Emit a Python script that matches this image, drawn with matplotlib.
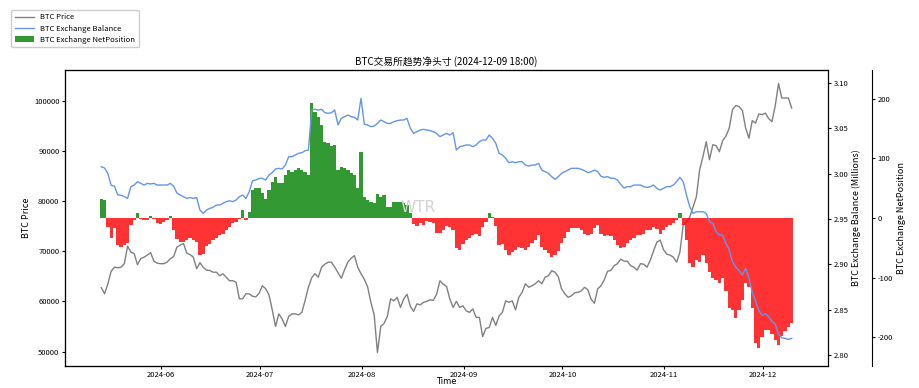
import matplotlib
matplotlib.use('Agg')
import matplotlib.pyplot as plt
import matplotlib.dates as mdates
from matplotlib.ticker import FormatStrFormatter
import numpy as np
import pandas as pd

plt.rcParams['font.family'] = ['Noto Sans CJK SC', 'DejaVu Sans']
plt.rcParams['axes.unicode_minus'] = False

# 日度数据 2024-05-13 ~ 2024-12-09
dates = pd.date_range('2024-05-13 18:00', periods=211, freq='D')

btc_price = [
    62700, 61500, 63500, 66000, 66800, 66700, 66800, 67500, 71000, 69800,
    69500, 67300, 68500, 68800, 69200, 69700, 68000, 67600, 67500, 67500,
    67800, 68500, 68900, 70800, 71200, 71500, 69600, 69300, 68800, 66500,
    67700, 66800, 66200, 66150, 65800, 65800, 65100, 65500, 64800, 64100,
    64100, 63800, 60500, 60500, 61500, 61500, 61000, 60900, 61600, 63100,
    62500, 61300, 58300, 55000, 57500, 56500, 55000, 57000, 57500, 57500,
    57300, 57800, 60200, 62800, 64700, 65500, 64800, 66800, 67400, 67800,
    67800, 66800, 65700, 64600, 66300, 67800, 68600, 69100, 66800, 65500,
    64400, 62900, 59800, 57300, 49800, 55000, 55600, 57000, 60500, 60100,
    60800, 58800, 60500, 61400, 59000, 58000, 59500, 59300, 59800, 60000,
    60300, 60200, 61400, 64100, 63400, 63000, 60500, 58800, 60000, 58800,
    59100, 58100, 57800, 58500, 56800, 56800, 53000, 54600, 54800, 56800,
    55200, 57100, 57800, 60100, 59800, 60100, 58300, 60800, 61800, 63500,
    62800, 63100, 63500, 64100, 63500, 64800, 65100, 66100, 65800, 64900,
    62500, 61500, 60800, 61100, 61700, 61800, 62100, 62800, 62300, 60400,
    59600, 62500, 63100, 64300, 66000, 66150, 67100, 67500, 68400, 68000,
    68000, 67100, 66800, 66200, 67500, 67400, 66800, 68200, 70100, 71800,
    72200, 70300, 69400, 69200, 68800, 67800, 69800, 75200, 75800, 76800,
    78800, 80800, 86200, 88800, 91800, 88200, 91200, 91000, 89800, 92000,
    92900, 94500, 98200, 99000, 98800, 98000, 94500, 92500, 96000, 95500,
    97300, 97200, 97500, 96400, 95800, 99000, 103400, 100500, 100500, 100500, 98500,
]

exchange_balance = [
    3.0075, 3.0060, 3.0000, 2.9870, 2.9860, 2.9765, 2.9760, 2.9745, 2.9726, 2.9855,
    2.9873, 2.9910, 2.9891, 2.9873, 2.9891, 2.9885, 2.9891, 2.9873, 2.9873, 2.9873,
    2.9873, 2.9891, 2.9860, 2.9785, 2.9763, 2.9745, 2.9726, 2.9735, 2.9726, 2.9735,
    2.9598, 2.9561, 2.9598, 2.9616, 2.9627, 2.9653, 2.9653, 2.9671, 2.9690, 2.9700,
    2.9690, 2.9708, 2.9745, 2.9763, 2.9726, 2.9800, 2.9920, 2.9928, 2.9946, 2.9946,
    2.9928, 2.9983, 3.0010, 3.0050, 3.0057, 3.0050, 3.0093, 3.0185, 3.0185, 3.0204,
    3.0222, 3.0229, 3.0251, 3.0259, 3.0699, 3.0707, 3.0699, 3.0707, 3.0670, 3.0663,
    3.0670, 3.0699, 3.0534, 3.0608, 3.0626, 3.0644, 3.0626, 3.0619, 3.0589, 3.0828,
    3.0545, 3.0534, 3.0516, 3.0523, 3.0552, 3.0589, 3.0571, 3.0552, 3.0552, 3.0571,
    3.0582, 3.0589, 3.0589, 3.0608, 3.0497, 3.0442, 3.0460, 3.0479, 3.0486, 3.0479,
    3.0472, 3.0461, 3.0440, 3.0406, 3.0424, 3.0442, 3.0424, 3.0450, 3.0259, 3.0295,
    3.0303, 3.0314, 3.0314, 3.0295, 3.0314, 3.0351, 3.0369, 3.0369, 3.0424, 3.0387,
    3.0332, 3.0222, 3.0204, 3.0167, 3.0119, 3.0130, 3.0119, 3.0130, 3.0130, 3.0093,
    3.0082, 3.0093, 3.0093, 3.0112, 3.0038, 3.0020, 3.0002, 2.9965, 2.9936, 2.9965,
    3.0002, 3.0020, 3.0038, 3.0057, 3.0057, 3.0057, 3.0046, 3.0031, 3.0009, 3.0020,
    3.0038, 3.0020, 2.9970, 2.9958, 2.9965, 2.9947, 2.9947, 2.9928, 2.9880, 2.9840,
    2.9855, 2.9855, 2.9873, 2.9873, 2.9873, 2.9855, 2.9847, 2.9855, 2.9873, 2.9836,
    2.9818, 2.9836, 2.9855, 2.9855, 2.9873, 2.9910, 2.9958, 2.9910, 2.9763, 2.9634,
    2.9561, 2.9579, 2.9579, 2.9579, 2.9561, 2.9469, 2.9451, 2.9359, 2.9322, 2.9322,
    2.9231, 2.9160, 2.9029, 2.8970, 2.8930, 2.8882, 2.8955, 2.8850, 2.8690, 2.8600,
    2.8490, 2.8441, 2.8459, 2.8423, 2.8370, 2.8340, 2.8230, 2.8190, 2.8184, 2.8173, 2.8184,
]

net_position = [
    31, 30, -15, -33, -17, -45, -48, -46, -42, -12,
    -3, 8, -2, -3, -3, 3, -1, -9, -10, -6,
    -3, 4, -20, -36, -40, -40, -37, -34, -37, -40,
    -62, -60, -47, -43, -37, -34, -29, -26, -20, -15,
    -9, -6, -1, 14, -3, 10, 47, 50, 50, 42,
    32, 47, 60, 68, 58, 58, 72, 80, 77, 80,
    83, 80, 77, 72, 192, 178, 170, 156, 128, 125,
    120, 122, 80, 86, 83, 80, 75, 72, 50, 110,
    35, 30, 27, 25, 40, 36, 38, 19, 18, 27,
    27, 27, 25, 22, 8, -10, -14, -9, -11, -5,
    -6, -8, -25, -25, -20, -13, -15, -20, -50, -54,
    -43, -37, -34, -29, -26, -31, -15, -6, 8, 2,
    -14, -45, -43, -54, -62, -57, -54, -48, -51, -54,
    -48, -42, -37, -29, -48, -54, -59, -66, -62, -56,
    -42, -34, -23, -17, -16, -17, -20, -26, -29, -26,
    -17, -12, -26, -31, -28, -31, -37, -45, -50, -48,
    -42, -37, -34, -29, -28, -26, -20, -20, -15, -18,
    -26, -20, -15, -12, -9, -3, 9, -12, -37, -76,
    -82, -70, -73, -62, -76, -90, -100, -104, -109, -101,
    -123, -150, -155, -168, -155, -137, -109, -115, -150, -210,
    -218, -200, -188, -188, -195, -205, -212, -198, -190, -182, -176,
]

net = np.array(net_position)
bar_colors = ['green' if v >= 0 else 'red' for v in net]

TICK = 5.5
LAB = 6.5

fig = plt.figure(figsize=(9.19, 3.88), dpi=100)
ax1 = fig.add_axes([0.0707, 0.0567, 0.8303, 0.7629])

l1, = ax1.plot(dates, btc_price, color='grey', linewidth=1, label='BTC Price')
ax1.set_ylabel('BTC Price', fontsize=LAB, labelpad=2)
ax1.set_xlabel('Time', fontsize=6, va='center', family='DejaVu Sans')
ax1.xaxis.set_label_coords(0.5, -0.053)
ax1.tick_params(labelsize=TICK, length=2.5, pad=1.5)
ax1.tick_params(axis='x', pad=1)
ax1.xaxis.set_major_locator(mdates.MonthLocator())
ax1.xaxis.set_major_formatter(mdates.DateFormatter('%Y-%m'))

# 净头寸 (第三坐标轴)
ax3 = ax1.twinx()
ax3.spines['right'].set_position(('axes', 1.0577))
bars = ax3.bar(dates, net, width=1.0, color=bar_colors, alpha=0.8,
               linewidth=0, label='BTC Exchange NetPosition')
ax3.set_ylim(-248, 248)
ax3.set_ylabel('BTC Exchange NetPosition', fontsize=LAB, labelpad=3)
ax3.tick_params(labelsize=TICK, length=2.5, pad=1.5)

# 交易所余额
ax2 = ax1.twinx()
l2, = ax2.plot(dates, exchange_balance, color='cornflowerblue', linewidth=1,
               label='BTC Exchange Balance')
ax2.set_ylim(2.788, 3.114)
ax2.yaxis.set_major_formatter(FormatStrFormatter('%.2f'))
ax2.set_ylabel('BTC Exchange Balance (Millions)', fontsize=LAB, labelpad=2)
ax2.tick_params(labelsize=TICK, length=2.5, pad=1.5)

ax1.set_title('BTC交易所趋势净头寸 (2024-12-09 18:00)', fontsize=7, pad=4)

fig.legend(handles=[l1, l2, bars], loc='upper left', bbox_to_anchor=(0.008, 0.985),
           fontsize=5.5, framealpha=1, handlelength=2.5, borderpad=0.5,
           labelspacing=0.4)

fig.text(418 / 919, 1 - 207 / 388, 'WTR', fontsize=11, color='lightgrey',
         ha='center', va='center', family='DejaVu Sans')

fig.savefig('out.png', dpi=100)
